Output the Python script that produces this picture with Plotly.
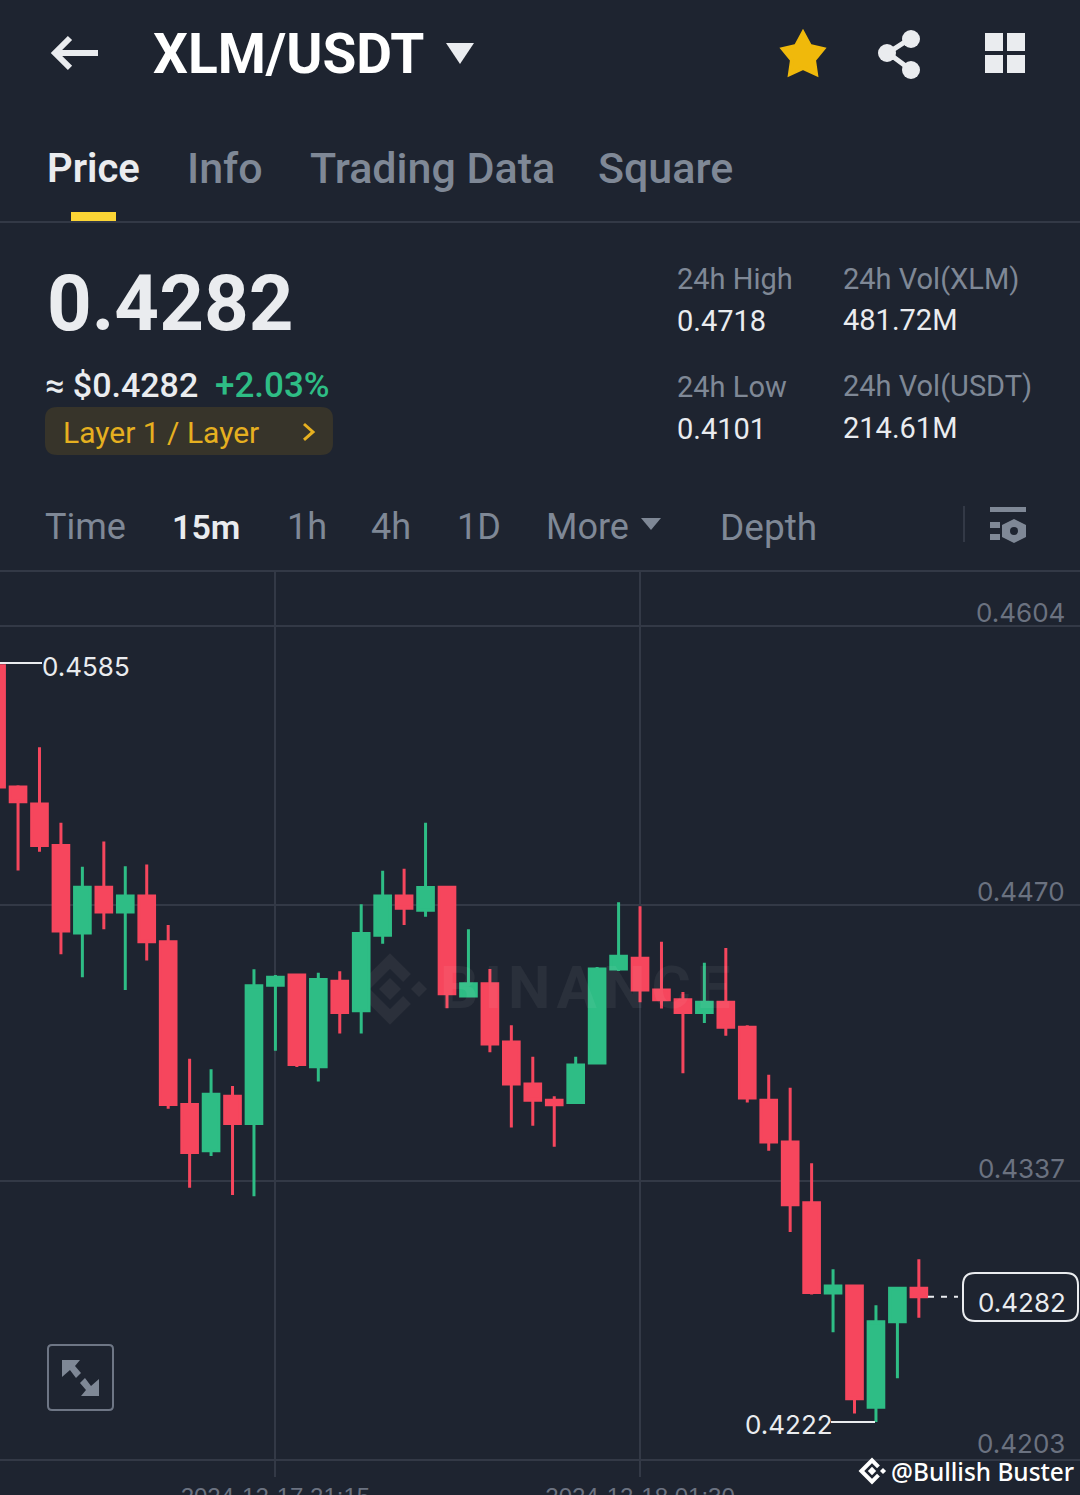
import plotly.graph_objects as go

W = 1080
H = 1495
BG = "#1E2430"
GRID = "#333946"
UP = "#2EBD85"
DOWN = "#F6465D"
WHITE = "#EAECEF"
GREY = "#7F8896"
GOLD = "#F0B90B"
LAYER_GOLD = "#E6B020"
AXIS_TEXT = "#6B7280"

# candle data, one row per 15 min starting 2024-12-17 18:00
OPEN = [0.45848, 0.45265, 0.45184, 0.44984, 0.44564, 0.44783, 0.44665, 0.44742, 0.44522, 0.43739, 0.43517,
        0.43779, 0.43648, 0.44312, 0.44361, 0.43921, 0.44332, 0.44190, 0.44553, 0.44742, 0.44673, 0.44784,
        0.44261, 0.44320, 0.44040, 0.43838, 0.43759, 0.43748, 0.43939, 0.44391, 0.44442, 0.44290, 0.44242,
        0.44181, 0.44231, 0.44110, 0.43759, 0.43559, 0.43267, 0.42833, 0.42866, 0.42283, 0.42695, 0.42856]
HIGH = [0.45862, 0.45274, 0.45457, 0.45094, 0.44882, 0.45004, 0.44884, 0.44893, 0.44602, 0.43959, 0.43909,
        0.43828, 0.44389, 0.44361, 0.44361, 0.44372, 0.44380, 0.44702, 0.44863, 0.44873, 0.45094, 0.44784,
        0.44582, 0.44391, 0.44120, 0.43969, 0.43779, 0.43969, 0.44400, 0.44711, 0.44692, 0.44522, 0.44280,
        0.44421, 0.44492, 0.44120, 0.43882, 0.43819, 0.43456, 0.42947, 0.42866, 0.42774, 0.42856, 0.42995]
LOW = [0.45266, 0.44864, 0.44954, 0.44461, 0.44351, 0.44581, 0.44290, 0.44431, 0.43718, 0.43339, 0.43491,
       0.43304, 0.43298, 0.43997, 0.43919, 0.43849, 0.44080, 0.44080, 0.44512, 0.44602, 0.44642, 0.44202,
       0.44261, 0.43990, 0.43628, 0.43637, 0.43536, 0.43748, 0.43939, 0.44381, 0.44231, 0.44200, 0.43889,
       0.44131, 0.44069, 0.43749, 0.43516, 0.43126, 0.42825, 0.42644, 0.42253, 0.42212, 0.42423, 0.42714]
CLOSE = [0.45266, 0.45195, 0.44984, 0.44573, 0.44783, 0.44665, 0.44742, 0.44522, 0.43739, 0.43508, 0.43788,
         0.43648, 0.44310, 0.44351, 0.43931, 0.44340, 0.44181, 0.44561, 0.44742, 0.44683, 0.44782, 0.44272,
         0.44320, 0.44030, 0.43838, 0.43759, 0.43738, 0.43929, 0.44391, 0.44452, 0.44290, 0.44242, 0.44181,
         0.44231, 0.44110, 0.43770, 0.43559, 0.43257, 0.42835, 0.42866, 0.42324, 0.42694, 0.42856, 0.42815]

Y_TICKS = [0.4604, 0.4470, 0.4337, 0.4203]
Y_LABELS = ["0.4604", "0.4470", "0.4337", "0.4203"]
X_TICKS = ["2024-12-17 21:15", "2024-12-18 01:30"]
X_RANGE = ["2024-12-17 18:02:23", "2024-12-18 06:37:42"]
Y_RANGE = [0.41948, 0.46304]

TABS = [("Price", 48, WHITE, 600, 40), ("Info", 188, GREY, 500, 43), ("Trading Data", 311, GREY, 500, 43),
        ("Square", 599, GREY, 500, 43)]
PERIODS = [("Time", 46, GREY, 400, 36), ("15m", 173, WHITE, 600, 34), ("1h", 288, GREY, 400, 36),
           ("4h", 372, GREY, 400, 36), ("1D", 458, GREY, 400, 36), ("More", 547, GREY, 400, 36),
           ("Depth", 721, GREY, 400, 37)]
STATS = [("24h High", 678, 279, GREY), ("0.4718", 678, 321, WHITE), ("24h Vol(XLM)", 844, 279, GREY),
         ("481.72M", 844, 320, WHITE), ("24h Low", 678, 387, GREY), ("0.4101", 678, 429, WHITE),
         ("24h Vol(USDT)", 844, 386, GREY), ("214.61M", 844, 428, WHITE)]

times = [f"2024-12-{17 + (18 + i // 4) // 24} {(18 + i // 4) % 24:02d}:{(i % 4) * 15:02d}" for i in range(len(OPEN))]

fig = go.Figure(go.Candlestick(
    x=times, open=OPEN, high=HIGH, low=LOW, close=CLOSE,
    increasing=dict(line=dict(color=UP, width=3), fillcolor=UP),
    decreasing=dict(line=dict(color=DOWN, width=3), fillcolor=DOWN),
    whiskerwidth=0,
    showlegend=False,
))

shapes = []
notes = []


def px(x):
    return x / W


def py(y):
    return 1 - y / H


def path(cmds, fill=None, line=None, width=0, layer="above"):
    # cmds is a list of (letter, x, y) in pixels from the top left
    d = ""
    for c in cmds:
        if c[0] == "Z":
            d += " Z"
        else:
            d += f" {c[0]} {px(c[1]):.5f} {py(c[2]):.5f}"
    s = dict(type="path", path=d.strip(), xref="paper", yref="paper", layer=layer,
             line=dict(color=line or "rgba(0,0,0,0)", width=width))
    if fill:
        s["fillcolor"] = fill
    shapes.append(s)


def poly(points, fill=None, line=None, width=0, closed=True, layer="above"):
    cmds = [("M" if i == 0 else "L", p[0], p[1]) for i, p in enumerate(points)]
    if closed:
        cmds.append(("Z",))
    path(cmds, fill, line, width, layer)


def round_rect(x0, y0, x1, y1, r, fill=None, line=None, width=0):
    path([("M", x0 + r, y0), ("L", x1 - r, y0), ("Q", x1, y0), ("", x1, y0 + r), ("L", x1, y1 - r),
          ("Q", x1, y1), ("", x1 - r, y1), ("L", x0 + r, y1), ("Q", x0, y1), ("", x0, y1 - r),
          ("L", x0, y0 + r), ("Q", x0, y0), ("", x0 + r, y0), ("Z",)], fill, line, width)


def seg(x0, y0, x1, y1, color, width, dash="solid", layer="above"):
    shapes.append(dict(type="line", xref="paper", yref="paper", x0=px(x0), y0=py(y0), x1=px(x1), y1=py(y1),
                       line=dict(color=color, width=width, dash=dash), layer=layer))


def circle(cx, cy, r, color):
    shapes.append(dict(type="circle", xref="paper", yref="paper", x0=px(cx - r), x1=px(cx + r), y0=py(cy - r),
                       y1=py(cy + r), fillcolor=color, line=dict(width=0)))


def text(x, y, s, size, color, weight=400, family="Roboto", anchor="left"):
    # the -2 takes up the side bearing of the glyphs
    notes.append(dict(x=px(x - 2), y=py(y), xref="paper", yref="paper", text=s, showarrow=False, xanchor=anchor,
                      yanchor="middle", borderpad=0, font=dict(size=size, color=color, family=family, weight=weight)))


def logo(cx, cy, s, color, width, layer):
    poly([(cx + 17 * s, cy - 11 * s), (cx, cy - 28 * s), (cx - 28 * s, cy), (cx, cy + 28 * s), (cx + 17 * s, cy + 11 * s)],
         line=color, width=width, closed=False, layer=layer)
    poly([(cx, cy - 11 * s), (cx + 11 * s, cy), (cx, cy + 11 * s), (cx - 11 * s, cy)], fill=color, layer=layer)
    poly([(cx + 29 * s, cy - 8 * s), (cx + 37 * s, cy), (cx + 29 * s, cy + 8 * s), (cx + 21 * s, cy)], fill=color, layer=layer)


# header
poly([(70, 38), (55, 53), (70, 68)], line=WHITE, width=6, closed=False)
seg(56, 53, 98, 53, WHITE, 6)
text(154, 54, "XLM/USDT", 55, "#FFFFFF", 700)
poly([(446, 43), (474, 43), (460, 64)], fill=WHITE)
poly([(803, 33), (810, 46), (823, 49), (814, 60), (816, 74), (803, 68), (790, 74), (792, 60), (783, 49), (796, 46)],
     fill=GOLD, line=GOLD, width=4)
poly([(911, 38), (888, 53), (911, 70)], line=WHITE, width=5, closed=False)
circle(911, 39, 9, WHITE)
circle(887, 53, 9, WHITE)
circle(911, 70, 9, WHITE)
for x0, y0 in [(985, 33), (1007, 33), (985, 55), (1007, 55)]:
    poly([(x0, y0), (x0 + 18, y0), (x0 + 18, y0 + 18), (x0, y0 + 18)], fill=WHITE)

for label, x, color, weight, size in TABS:
    text(x, 168, label, size, color, weight)
poly([(71, 212), (116, 212), (116, 221), (71, 221)], fill="#FCD535")
seg(0, 222, W, 222, GRID, 2)

# price block
text(48, 304, "0.4282", 78, WHITE, 700)
text(46, 385, "≈ $0.4282", 34, WHITE, 500)
text(216, 385, "+2.03%", 35, UP, 500)
round_rect(45, 407, 333, 455, 12, fill="#37342A")
text(64, 432, "Layer 1 / Layer", 30, LAYER_GOLD)
poly([(304, 424), (313, 432), (304, 440)], line=LAYER_GOLD, width=3, closed=False)
for label, x, y, color in STATS:
    text(x, y, label, 29, color)

# period row
for label, x, color, weight, size in PERIODS:
    text(x, 527, label, size, color, weight)
poly([(641, 518), (661, 518), (651, 530)], fill=GREY)
seg(964, 506, 964, 542, GRID, 2)
poly([(990, 507), (1026, 507), (1026, 512), (990, 512)], fill=GREY)
poly([(990, 522), (1000, 522), (1000, 528), (990, 528)], fill=GREY)
poly([(990, 534), (1000, 534), (1000, 540), (990, 540)], fill=GREY)
poly([(1014, 519), (1026, 525), (1026, 537), (1014, 543), (1002, 537), (1002, 525)], fill=GREY)
circle(1014, 531, 4, BG)

# chart chrome
seg(0, 571, W, 571, GRID, 2, layer="below")
logo(390, 989, 1, "#2B303B", 11, "below")
text(587, 988, "\u200a".join("BINANCE"), 60, "rgba(255,255,255,0.055)", 700, anchor="center")

# price labels sit above their grid lines, the lowest one a little higher
for tick, label in zip(Y_TICKS, Y_LABELS):
    notes.append(dict(x=px(1066), y=tick, xref="paper", yref="y", text=label, showarrow=False, xanchor="right",
                      yanchor="middle", borderpad=0, yshift=16 if tick == Y_TICKS[-1] else 13,
                      font=dict(family="Inter", size=26, color=AXIS_TEXT)))

# min and max callouts
shapes.append(dict(type="line", xref="paper", yref="y", x0=0, x1=px(42), y0=HIGH[0], y1=HIGH[0],
                   line=dict(color=WHITE, width=2)))
text(43, 666, "0.4585", 26, WHITE, family="Inter")
shapes.append(dict(type="line", xref="paper", yref="y", x0=px(831), x1=px(875), y0=min(LOW), y1=min(LOW),
                   line=dict(color=WHITE, width=2)))
text(746, 1424, "0.4222", 26, WHITE, family="Inter")

# last price marker
shapes.append(dict(type="line", xref="paper", yref="y", x0=px(928), x1=px(958), y0=CLOSE[-1], y1=CLOSE[-1],
                   line=dict(color=WHITE, width=2, dash="6px,7px")))
round_rect(963, 1273, 1078, 1321, 12, line=WHITE, width=2)
text(979, 1302, "0.4282", 26, WHITE, family="Inter")

# expand button
round_rect(48, 1345, 113, 1410, 4, line="#6E7685", width=2)
poly([(62, 1360), (80, 1360), (75, 1366), (81, 1373), (76, 1378), (70, 1370), (62, 1377)], fill="#7F8896")
poly([(99, 1396), (81, 1396), (86, 1390), (80, 1383), (85, 1378), (91, 1386), (99, 1379)], fill="#7F8896")

# repost mark
logo(872, 1471, 0.38, "#FFFFFF", 4, "above")
text(892, 1471, "@Bullish Buster", 24.4, "#FFFFFF", 500, family="Noto Sans")

fig.update_layout(
    width=W, height=H,
    margin=dict(l=0, r=0, t=0, b=0),
    paper_bgcolor=BG, plot_bgcolor=BG,
    showlegend=False,
    boxgap=0.27, boxgroupgap=0,
    shapes=shapes,
    annotations=notes,
    xaxis=dict(
        type="date", range=X_RANGE, domain=[0, 1], rangeslider=dict(visible=False), automargin=False,
        tickmode="array", tickvals=X_TICKS, ticktext=X_TICKS,
        showgrid=True, gridcolor=GRID, gridwidth=2, zeroline=False, showline=False,
        ticks="", ticklabelstandoff=3,
        tickfont=dict(family="Liberation Sans", size=24, color=AXIS_TEXT),
    ),
    yaxis=dict(
        domain=[1 - 1477 / H, 1 - 571 / H], range=Y_RANGE, side="right", automargin=False,
        tickmode="array", tickvals=Y_TICKS, showticklabels=False,
        showgrid=True, gridcolor=GRID, gridwidth=2, zeroline=False, showline=False,
        ticks="",
    ),
)

fig.write_html("out.html", config=dict(displayModeBar=False),
               post_script="document.body.style.margin='0';document.body.style.overflow='hidden';")
